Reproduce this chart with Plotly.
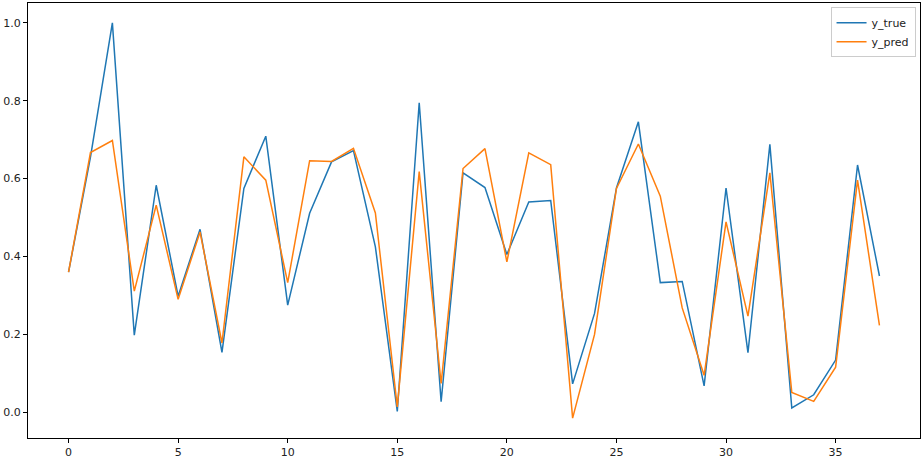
import plotly.graph_objects as go

idx = list(range(38))

y_true = [0.36, 0.655, 1.0, 0.198, 0.583, 0.298, 0.47, 0.154, 0.575, 0.709,
          0.275, 0.511, 0.643, 0.672, 0.425, 0.002, 0.795, 0.027, 0.615, 0.577,
          0.405, 0.54, 0.544, 0.073, 0.254, 0.576, 0.746, 0.333, 0.336, 0.068,
          0.576, 0.153, 0.688, 0.011, 0.045, 0.134, 0.635, 0.35]

y_pred = [0.36, 0.667, 0.698, 0.311, 0.532, 0.29, 0.463, 0.178, 0.656, 0.596,
          0.333, 0.646, 0.644, 0.678, 0.512, 0.014, 0.618, 0.074, 0.626, 0.677,
          0.386, 0.666, 0.636, -0.015, 0.2, 0.575, 0.689, 0.555, 0.268, 0.095,
          0.489, 0.247, 0.615, 0.051, 0.028, 0.116, 0.596, 0.223]

fig = go.Figure()
fig.add_trace(go.Scatter(x=idx, y=y_true, mode="lines", name="y_true",
                         line=dict(color="#1f77b4", width=1.5)))
fig.add_trace(go.Scatter(x=idx, y=y_pred, mode="lines", name="y_pred",
                         line=dict(color="#ff7f0e", width=1.5)))

axis_style = dict(
    showgrid=False, zeroline=False, showline=True, linecolor="black", linewidth=1,
    mirror=True, ticks="outside", ticklen=4, tickcolor="black", automargin=False,
    tickfont=dict(family="DejaVu Sans", size=11, color="#222222"),
)

fig.update_layout(
    width=923, height=458,
    margin=dict(l=28, r=3, t=3, b=20),
    plot_bgcolor="white", paper_bgcolor="white",
    xaxis=dict(range=[-1.85, 38.85], tickvals=[0, 5, 10, 15, 20, 25, 30, 35], **axis_style),
    yaxis=dict(range=[-0.066, 1.051], tickvals=[0.0, 0.2, 0.4, 0.6, 0.8, 1.0],
               tickformat=".1f", **axis_style),
    legend=dict(x=0.995, y=0.99, xanchor="right", yanchor="top",
                bgcolor="rgba(255,255,255,0.8)", bordercolor="#cccccc", borderwidth=1,
                font=dict(family="DejaVu Sans", size=11, color="#222222"),
                itemwidth=30, tracegroupgap=0),
    showlegend=True,
)

# page body has a default margin; drop it so the figure sits at the corner
fig.write_html("out.html", config={"displayModeBar": False},
               post_script="document.body.style.margin='0';")
